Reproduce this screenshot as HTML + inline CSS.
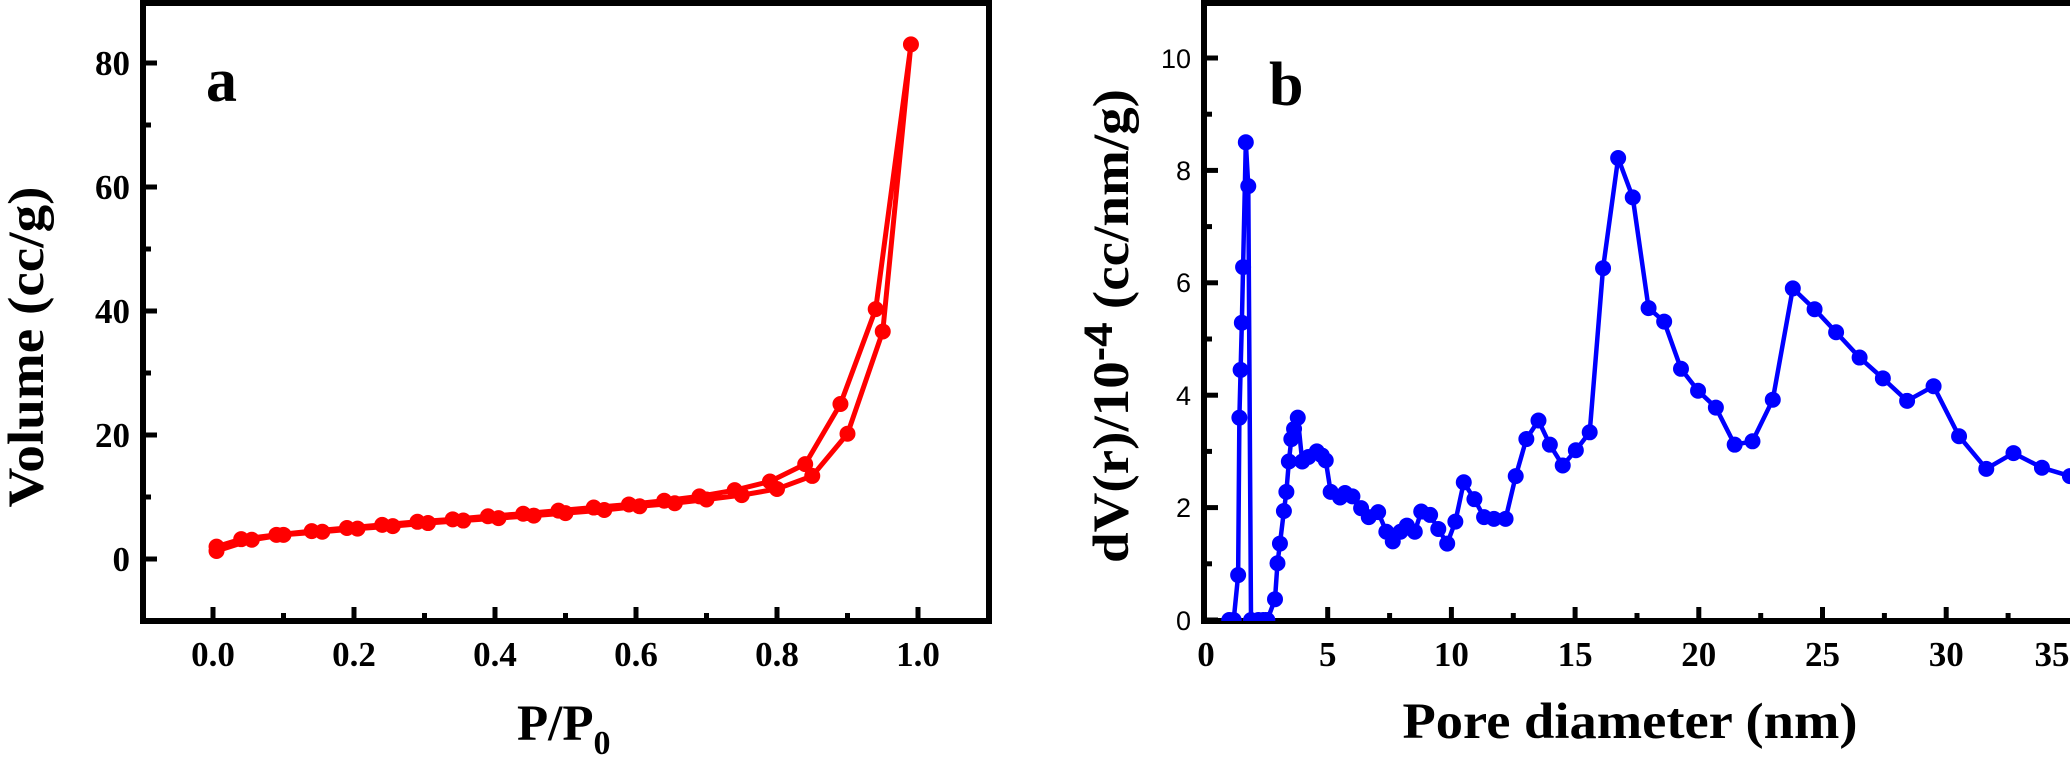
<!DOCTYPE html>
<html><head><meta charset="utf-8"><style>
html,body{margin:0;padding:0;background:#fff;}
svg{display:block;}
.tl{font-family:"Liberation Serif",serif;font-weight:bold;font-size:35px;fill:#000;}
.ts{font-family:"Liberation Sans",sans-serif;font-size:27px;fill:#000;}
.ti{font-family:"Liberation Serif",serif;font-weight:bold;font-size:51px;fill:#000;}
</style></head><body>
<svg width="2070" height="758" viewBox="0 0 2070 758" xmlns="http://www.w3.org/2000/svg">
<defs><clipPath id="cb"><rect x="1204" y="0" width="866" height="621"/></clipPath></defs>
<!-- Panel a -->
<g stroke="#000" stroke-width="5">
<line x1="143" y1="559" x2="157" y2="559"/><line x1="143" y1="435" x2="157" y2="435"/><line x1="143" y1="311" x2="157" y2="311"/><line x1="143" y1="187" x2="157" y2="187"/><line x1="143" y1="63" x2="157" y2="63"/>
<line x1="143" y1="497" x2="151" y2="497"/><line x1="143" y1="373" x2="151" y2="373"/><line x1="143" y1="249" x2="151" y2="249"/><line x1="143" y1="125" x2="151" y2="125"/>
<line x1="213" y1="621" x2="213" y2="607"/><line x1="354" y1="621" x2="354" y2="607"/><line x1="495" y1="621" x2="495" y2="607"/><line x1="636" y1="621" x2="636" y2="607"/><line x1="777" y1="621" x2="777" y2="607"/><line x1="918" y1="621" x2="918" y2="607"/>
<line x1="283.5" y1="621" x2="283.5" y2="613"/><line x1="424.5" y1="621" x2="424.5" y2="613"/><line x1="565.5" y1="621" x2="565.5" y2="613"/><line x1="706.5" y1="621" x2="706.5" y2="613"/><line x1="847.5" y1="621" x2="847.5" y2="613"/>
</g>
<rect x="143" y="3" width="846" height="618" fill="none" stroke="#000" stroke-width="6"/>
<g class="tl" text-anchor="end">
<text x="130" y="571">0</text><text x="130" y="447">20</text><text x="130" y="323">40</text><text x="130" y="199">60</text><text x="130" y="75">80</text>
</g>
<g class="tl" text-anchor="middle">
<text x="213" y="666">0.0</text><text x="354" y="666">0.2</text><text x="495" y="666">0.4</text><text x="636" y="666">0.6</text><text x="777" y="666">0.8</text><text x="918" y="666">1.0</text>
</g>
<text class="ti" transform="translate(43,347) rotate(-90)" text-anchor="middle" textLength="321" lengthAdjust="spacingAndGlyphs">Volume (cc/g)</text>
<text class="ti" x="517" y="740">P/P<tspan font-size="34" dy="14">0</tspan></text>
<text x="206" y="101" style="font-family:'Liberation Serif',serif;font-weight:bold;font-size:62px;">a</text>
<g transform="matrix(705 0 0 -6.2 213 559)" fill="none" stroke="#ff0000">
<polyline vector-effect="non-scaling-stroke" stroke-width="5" stroke-linejoin="round" points="0.005,1.3 0.055,3.1 0.1,3.9 0.155,4.4 0.205,4.9 0.255,5.3 0.305,5.8 0.355,6.2 0.405,6.6 0.455,7.0 0.5,7.4 0.555,7.9 0.605,8.5 0.655,9.0 0.7,9.6 0.75,10.3 0.8,11.3 0.85,13.4 0.9,20.2 0.95,36.7 0.99,83 0.94,40.3 0.89,25 0.84,15.3 0.79,12.5 0.74,11.1 0.69,10.1 0.64,9.4 0.59,8.8 0.54,8.3 0.49,7.8 0.44,7.3 0.39,6.9 0.34,6.4 0.29,6.0 0.24,5.5 0.19,5.0 0.14,4.5 0.09,3.9 0.04,3.2 0.005,2.0"/>
<path vector-effect="non-scaling-stroke" stroke-width="16" stroke-linecap="round" d="M0.005,1.3h0M0.055,3.1h0M0.1,3.9h0M0.155,4.4h0M0.205,4.9h0M0.255,5.3h0M0.305,5.8h0M0.355,6.2h0M0.405,6.6h0M0.455,7.0h0M0.5,7.4h0M0.555,7.9h0M0.605,8.5h0M0.655,9.0h0M0.7,9.6h0M0.75,10.3h0M0.8,11.3h0M0.85,13.4h0M0.9,20.2h0M0.95,36.7h0M0.99,83h0M0.94,40.3h0M0.89,25h0M0.84,15.3h0M0.79,12.5h0M0.74,11.1h0M0.69,10.1h0M0.64,9.4h0M0.59,8.8h0M0.54,8.3h0M0.49,7.8h0M0.44,7.3h0M0.39,6.9h0M0.34,6.4h0M0.29,6.0h0M0.24,5.5h0M0.19,5.0h0M0.14,4.5h0M0.09,3.9h0M0.04,3.2h0M0.005,2.0h0"/>
</g>
<!-- Panel b -->
<g stroke="#000" stroke-width="5">
<line x1="1204" y1="620" x2="1218" y2="620"/><line x1="1204" y1="507.6" x2="1218" y2="507.6"/><line x1="1204" y1="395.2" x2="1218" y2="395.2"/><line x1="1204" y1="282.8" x2="1218" y2="282.8"/><line x1="1204" y1="170.4" x2="1218" y2="170.4"/><line x1="1204" y1="58" x2="1218" y2="58"/>
<line x1="1204" y1="563.8" x2="1212" y2="563.8"/><line x1="1204" y1="451.4" x2="1212" y2="451.4"/><line x1="1204" y1="339" x2="1212" y2="339"/><line x1="1204" y1="226.6" x2="1212" y2="226.6"/><line x1="1204" y1="114.2" x2="1212" y2="114.2"/>
<line x1="1327.7" y1="621" x2="1327.7" y2="607"/><line x1="1451.4" y1="621" x2="1451.4" y2="607"/><line x1="1575.1" y1="621" x2="1575.1" y2="607"/><line x1="1698.8" y1="621" x2="1698.8" y2="607"/><line x1="1822.5" y1="621" x2="1822.5" y2="607"/><line x1="1946.2" y1="621" x2="1946.2" y2="607"/>
<line x1="1265.9" y1="621" x2="1265.9" y2="613"/><line x1="1389.6" y1="621" x2="1389.6" y2="613"/><line x1="1513.3" y1="621" x2="1513.3" y2="613"/><line x1="1637" y1="621" x2="1637" y2="613"/><line x1="1760.7" y1="621" x2="1760.7" y2="613"/><line x1="1884.4" y1="621" x2="1884.4" y2="613"/><line x1="2008.1" y1="621" x2="2008.1" y2="613"/>
</g>
<rect x="1204" y="3" width="880" height="618" fill="none" stroke="#000" stroke-width="6"/>
<g class="ts" text-anchor="end">
<text x="1191" y="630">0</text><text x="1191" y="517">2</text><text x="1191" y="405">4</text><text x="1191" y="292">6</text><text x="1191" y="180">8</text><text x="1191" y="68">10</text>
</g>
<g class="tl" text-anchor="middle">
<text x="1206" y="666">0</text><text x="1327.7" y="666">5</text><text x="1451.4" y="666">10</text><text x="1575.1" y="666">15</text><text x="1698.8" y="666">20</text><text x="1822.5" y="666">25</text><text x="1946.2" y="666">30</text><text x="2052" y="666">35</text>
</g>
<text class="ti" transform="translate(1128,326) rotate(-90)" text-anchor="middle" textLength="474" lengthAdjust="spacingAndGlyphs">dV(r)/10<tspan dy="-16" style="font-family:'Liberation Sans',sans-serif;font-size:40px;">-4</tspan><tspan dy="16"> (cc/nm/g)</tspan></text>
<text class="ti" x="1630" y="738" text-anchor="middle" textLength="455" lengthAdjust="spacingAndGlyphs">Pore diameter (nm)</text>
<text x="1269" y="105" style="font-family:'Liberation Serif',serif;font-weight:bold;font-size:62px;">b</text>
<g clip-path="url(#cb)">
<g transform="matrix(24.74 0 0 -56.2 1204 620)" fill="none" stroke="#0000ff">
<polyline vector-effect="non-scaling-stroke" stroke-width="4.5" stroke-linejoin="round" points="1.02,0 1.2,0 1.38,0.8 1.43,3.6 1.48,4.45 1.53,5.29 1.58,6.28 1.69,8.5 1.79,7.72 1.9,0 2.2,0 2.4,0 2.56,0 2.87,0.37 2.97,1.01 3.07,1.36 3.23,1.94 3.33,2.28 3.43,2.82 3.53,3.22 3.64,3.4 3.79,3.6 3.97,2.82 4.22,2.9 4.56,3.0 4.76,2.93 4.92,2.84 5.12,2.28 5.5,2.18 5.7,2.26 6.0,2.2 6.35,1.99 6.66,1.83 7.04,1.92 7.37,1.57 7.63,1.4 7.94,1.57 8.2,1.68 8.52,1.57 8.78,1.93 9.14,1.87 9.47,1.62 9.83,1.36 10.16,1.75 10.5,2.45 10.93,2.15 11.32,1.83 11.72,1.8 12.19,1.8 12.6,2.56 13.03,3.22 13.52,3.55 13.98,3.12 14.5,2.75 15.03,3.02 15.59,3.34 16.13,6.26 16.74,8.22 17.33,7.52 17.97,5.55 18.6,5.31 19.28,4.47 19.97,4.08 20.69,3.78 21.45,3.12 22.17,3.18 22.99,3.92 23.8,5.9 24.68,5.53 25.55,5.12 26.5,4.67 27.44,4.3 28.42,3.9 29.49,4.16 30.52,3.27 31.62,2.69 32.72,2.97 33.87,2.71 35,2.56"/>
<path vector-effect="non-scaling-stroke" stroke-width="16" stroke-linecap="round" d="M1.02,0h0M1.2,0h0M1.38,0.8h0M1.43,3.6h0M1.48,4.45h0M1.53,5.29h0M1.58,6.28h0M1.69,8.5h0M1.79,7.72h0M1.9,0h0M2.2,0h0M2.4,0h0M2.56,0h0M2.87,0.37h0M2.97,1.01h0M3.07,1.36h0M3.23,1.94h0M3.33,2.28h0M3.43,2.82h0M3.53,3.22h0M3.64,3.4h0M3.79,3.6h0M3.97,2.82h0M4.22,2.9h0M4.56,3.0h0M4.76,2.93h0M4.92,2.84h0M5.12,2.28h0M5.5,2.18h0M5.7,2.26h0M6.0,2.2h0M6.35,1.99h0M6.66,1.83h0M7.04,1.92h0M7.37,1.57h0M7.63,1.4h0M7.94,1.57h0M8.2,1.68h0M8.52,1.57h0M8.78,1.93h0M9.14,1.87h0M9.47,1.62h0M9.83,1.36h0M10.16,1.75h0M10.5,2.45h0M10.93,2.15h0M11.32,1.83h0M11.72,1.8h0M12.19,1.8h0M12.6,2.56h0M13.03,3.22h0M13.52,3.55h0M13.98,3.12h0M14.5,2.75h0M15.03,3.02h0M15.59,3.34h0M16.13,6.26h0M16.74,8.22h0M17.33,7.52h0M17.97,5.55h0M18.6,5.31h0M19.28,4.47h0M19.97,4.08h0M20.69,3.78h0M21.45,3.12h0M22.17,3.18h0M22.99,3.92h0M23.8,5.9h0M24.68,5.53h0M25.55,5.12h0M26.5,4.67h0M27.44,4.3h0M28.42,3.9h0M29.49,4.16h0M30.52,3.27h0M31.62,2.69h0M32.72,2.97h0M33.87,2.71h0M35,2.56h0"/>
</g>
</g>
</svg>
</body></html>
